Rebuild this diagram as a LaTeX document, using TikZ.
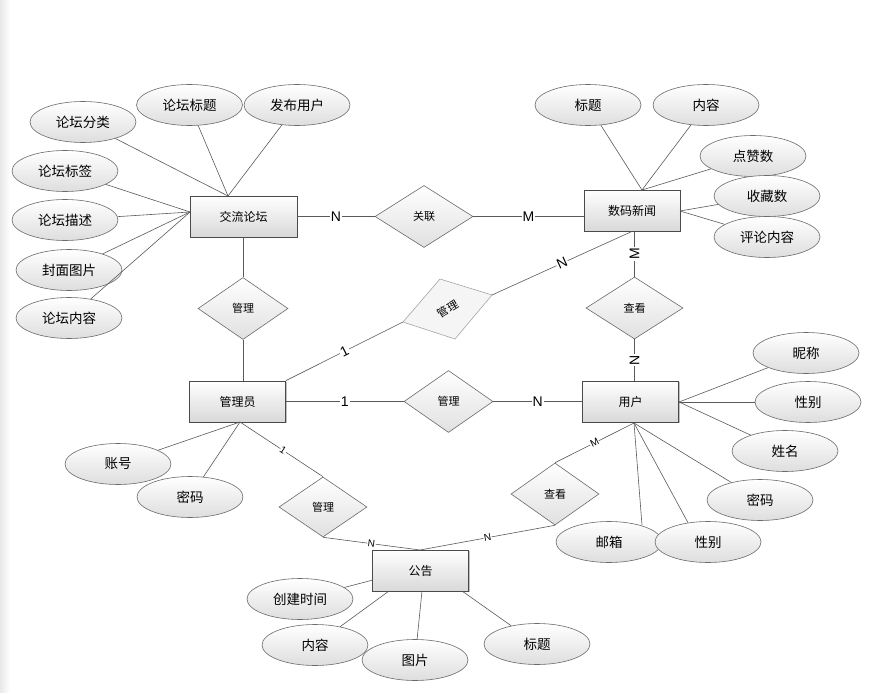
\documentclass[tikz,border=0pt]{standalone}
\usepackage{fontspec}
\setmainfont{Liberation Sans}
\newfontfamily\cjk{Noto Sans CJK SC}
\usetikzlibrary{shapes.geometric,shadows,calc}
\definecolor{linec}{HTML}{5A5A5A}
\definecolor{ellc}{HTML}{6A6A6A}
\definecolor{entc}{HTML}{4A4A4A}
\begin{document}
\begin{tikzpicture}[x=1pt,y=-1pt,
 line/.style={draw=linec, line width=0.6pt},
 attr/.style={ellipse, draw=ellc, line width=0.6pt, top color=white, bottom color=black!13, minimum width=106pt, minimum height=41pt, inner sep=0pt, font=\cjk\fontsize{13.5}{15}\selectfont},
 ent/.style={rectangle, draw=entc, line width=0.8pt, top color=white, bottom color=black!15, minimum height=41pt, minimum width=96pt, inner sep=0pt, font=\cjk\fontsize{12}{14}\selectfont, drop shadow={shadow xshift=1.2pt, shadow yshift=-1.2pt, opacity=0.25, fill=black}},
 rel/.style={diamond, draw=ellc, line width=0.6pt, top color=white, bottom color=black!12, inner sep=0pt, aspect=1.5, font=\cjk\fontsize{11}{13}\selectfont},
 card/.style={fill=white, inner sep=1pt, font=\fontsize{14}{16}\selectfont},
 cards/.style={fill=white, inner sep=0.5pt, font=\fontsize{10}{12}\selectfont}
]
% background
\fill[white] (0,0) rectangle (895,693);
\shade[left color=black!9, right color=white] (0,0) rectangle (10,693);
\useasboundingbox (0,0) rectangle (895,693);

% attachment points
\coordinate (flT) at (228,196);
\coordinate (flL) at (190,212);
\coordinate (nwT) at (642,190);
\coordinate (nwR) at (680,211);
\coordinate (usR) at (679,402);
\coordinate (usB) at (634,423);
\coordinate (adB) at (240,422);
\coordinate (ggT) at (420,550);
\coordinate (ggL) at (373,580);
\coordinate (ggB1) at (389,591);
\coordinate (ggB2) at (422,591);
\coordinate (ggB3) at (462,591);

% entities
\node[ent, minimum width=107pt] (fl) at (243.5,216.5) {交流论坛};
\node[ent] (nw) at (632,210.5) {数码新闻};
\node[ent] (ad) at (237.5,401.5) {管理员};
\node[ent] (us) at (630.5,401.5) {用户};
\node[ent] (gg) at (420.5,570.5) {公告};

% relations
\node[rel, minimum width=98pt, minimum height=62pt] (gl) at (424,216.5) {关联};
\node[rel, minimum width=90pt, minimum height=62pt] (m1) at (243,308.5) {管理};
\node[rel, minimum width=97pt, minimum height=62pt] (ck1) at (634.5,308) {查看};
\node[rel, minimum width=89pt, minimum height=62pt] (m3) at (448.5,401.5) {管理};
\node[rel, minimum width=88pt, minimum height=60pt] (m4) at (323,507) {管理};
\node[rel, minimum width=88pt, minimum height=62pt] (ck2) at (555,494) {查看};

% slanted relation
\coordinate (sL) at (403,322);
\coordinate (sT) at (440,279);
\coordinate (sR) at (492,295);
\coordinate (sB) at (455,339);
\filldraw[draw=black!35, line width=0.6pt, fill=black!4] (sL) -- (sT) -- (sR) -- (sB) -- cycle;
\node[font=\cjk\fontsize{11}{13}\selectfont, rotate=32, inner sep=0pt] (m2) at (448,309) {管理};

% attributes of 交流论坛
\node[attr] (f1) at (83,122) {论坛分类};
\node[attr] (f2) at (189.5,105) {论坛标题};
\node[attr] (f3) at (297,105) {发布用户};
\node[attr] (f4) at (65,171) {论坛标签};
\node[attr] (f5) at (65,220) {论坛描述};
\node[attr] (f6) at (69,270) {封面图片};
\node[attr] (f7) at (69,318) {论坛内容};
% attributes of 数码新闻
\node[attr] (n1) at (588,105) {标题};
\node[attr] (n2) at (706,105) {内容};
\node[attr] (n3) at (753,156) {点赞数};
\node[attr] (n4) at (767,196) {收藏数};
\node[attr] (n5) at (767,237) {评论内容};
% attributes of 用户
\node[attr] (u1) at (806,353) {昵称};
\node[attr] (u2) at (808,402) {性别};
\node[attr] (u3) at (785,451) {姓名};
\node[attr] (u4) at (760,500) {密码};
\node[attr] (u6) at (609,542) {邮箱};
\node[attr] (u5) at (708,542) {性别};
% attributes of 管理员
\node[attr] (a1) at (118,464) {账号};
\node[attr] (a2) at (190,497) {密码};
% attributes of 公告
\node[attr] (g1) at (300,599) {创建时间};
\node[attr] (g2) at (315,645) {内容};
\node[attr] (g3) at (415,660) {图片};
\node[attr] (g4) at (537,644) {标题};

% attribute lines
\foreach \a in {f1,f2,f3} \draw[line] (\a) -- (flT);
\foreach \a in {f4,f5,f6,f7} \draw[line] (\a) -- (flL);
\foreach \a in {n1,n2,n3} \draw[line] (\a) -- (nwT);
\foreach \a in {n4,n5} \draw[line] (\a) -- (nwR);
\foreach \a in {u1,u2,u3} \draw[line] (\a) -- (usR);
\draw[line] (u4) -- (usB);
\draw[line] ($(u5.north)+(-20,1.5)$) -- (usB);
\draw[line] ($(u6.north)+(33,4)$) -- (usB);
\foreach \a in {a1,a2} \draw[line] (\a) -- (adB);
\draw[line] (g1) -- (ggL);
\draw[line] (g2) -- (ggB1);
\draw[line] (g3) -- (ggB2);
\draw[line] (g4) -- (ggB3);

% relationship connectors
\draw[line] (fl) -- node[card]{N} (gl);
\draw[line] (gl.east) -- node[card]{M} (gl.east -| nw.west);
\draw[line] (fl.south -| m1.north) -- (m1.north);
\draw[line] (m1.south) -- (m1.south |- ad.north);
\draw[line] (ad.north east) -- node[card, sloped]{1} (sL);
\draw[line] (sR) -- node[card, sloped]{N} (nw.south);
\draw[line] (ck1.north |- nw.south) -- node[card, rotate=90]{M} (ck1.north);
\draw[line] (ck1.south) -- node[card, rotate=90]{N} (ck1.south |- us.north);
\draw[line] (ad) -- node[card]{1} (m3);
\draw[line] (m3) -- node[card]{N} (us);
\draw[line] (usB) -- node[cards, sloped]{M} (ck2.north);
\draw[line] (adB) -- node[cards, sloped, pos=0.52]{1} (m4.north);
\draw[line] (m4.south) -- node[cards, sloped]{N} (ggT);
\draw[line] (ck2.south) -- node[cards, sloped]{N} (ggT);
\end{tikzpicture}
\end{document}
